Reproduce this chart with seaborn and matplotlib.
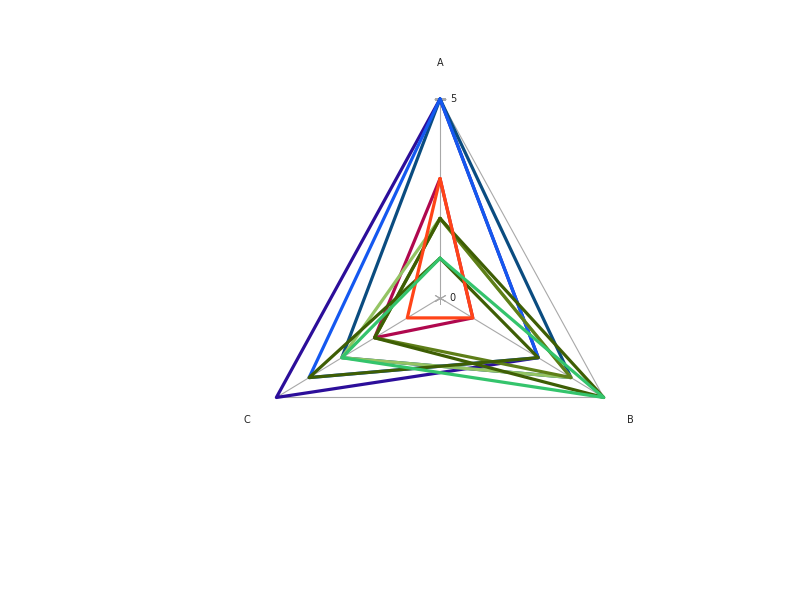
import numpy as np
import pandas as pd
import matplotlib
matplotlib.use('Agg')
import matplotlib.pyplot as plt
import seaborn as sns

# axes of the radar and their values (0..5)
axis_labels = ['A', 'B', 'C']
scale_min, scale_max = 0, 5

# one list per series: values on A, B, C
s_indigo = [5, 3, 5]
s_teal = [5, 4, 3]
s_blue = [5, 3, 4]
s_crimson = [3, 1, 2]
s_light_olive = [2, 4, 3]
s_olive_c = [2, 4, 2]
s_olive_a = [1, 3, 4]
s_olive_b = [2, 5, 2]
s_orange = [3, 1, 1]
s_green = [1, 5, 3]

series_names = ['indigo', 'teal', 'blue', 'crimson', 'light_olive', 'olive_c',
                'olive_a', 'olive_b', 'orange', 'green']
series_values = [s_indigo, s_teal, s_blue, s_crimson, s_light_olive, s_olive_c,
                 s_olive_a, s_olive_b, s_orange, s_green]
series_colors = ['#2c0e9a', '#0a4c80', '#1458f0', '#b0084e', '#94c464',
                 '#5e7e18', '#3e5e04', '#3e5e04', '#ff4418', '#34c46c']

sns.set_theme(style='white')
plt.rcParams['font.family'] = ['DejaVu Sans']

n = len(axis_labels)
angles = np.arange(n) * 2 * np.pi / n
closed = np.append(angles, angles[0])

rows = []
for name, vals in zip(series_names, series_values):
    for i, (t, v) in enumerate(zip(closed, vals + vals[:1])):
        rows.append({'series': name, 'order': i, 'theta': t, 'r': v})
df = pd.DataFrame(rows)

fig = plt.figure(figsize=(8.08, 6.03), dpi=100)
ax = fig.add_axes([0.2639, 0.1098, 0.5614, 0.792], projection='polar')
ax.set_aspect('auto')
ax.set_theta_offset(np.pi / 2)
ax.set_theta_direction(-1)
ax.set_ylim(0, 6)
ax.grid(False)
ax.spines['polar'].set_visible(False)
ax.set_xticks([])
ax.set_yticks([])

grid_col = '#a8a8a8'
for t in angles:
    ax.plot([t, t], [0, scale_max], color=grid_col, lw=0.8, zorder=1)
ax.plot(closed, [scale_max] * (n + 1), color=grid_col, lw=0.8, zorder=1)
# little tick marks on the value axis
ax.plot([0], [scale_max], marker='_', ms=9, mew=0.8, color=grid_col, zorder=1)
ax.plot([0], [0], marker=(6, 2, 0), ms=9, mew=0.7, color=grid_col, zorder=1)

sns.lineplot(data=df, x='theta', y='r', hue='series', hue_order=series_names,
             palette=dict(zip(series_names, series_colors)), sort=False,
             estimator=None, lw=2.3, legend=False, ax=ax, zorder=3)

# axis names, offset from the outer corners (in points)
label_offsets = [(0, 26), (19.5, -16), (-21, -16)]
for t, lab, off in zip(angles, axis_labels, label_offsets):
    ax.annotate(lab, (t, scale_max), xytext=off, textcoords='offset points',
                ha='center', va='center', fontsize=7, color='#222222')

ax.annotate(str(scale_max), (0, scale_max), xytext=(7, 0), textcoords='offset points',
            ha='left', va='center', fontsize=7, color='#222222')
ax.annotate(str(scale_min), (0, 0), xytext=(7, 0), textcoords='offset points',
            ha='left', va='center', fontsize=7, color='#222222')

ax.set_xlabel('')
ax.set_ylabel('')
fig.savefig('out.png', dpi=100)
